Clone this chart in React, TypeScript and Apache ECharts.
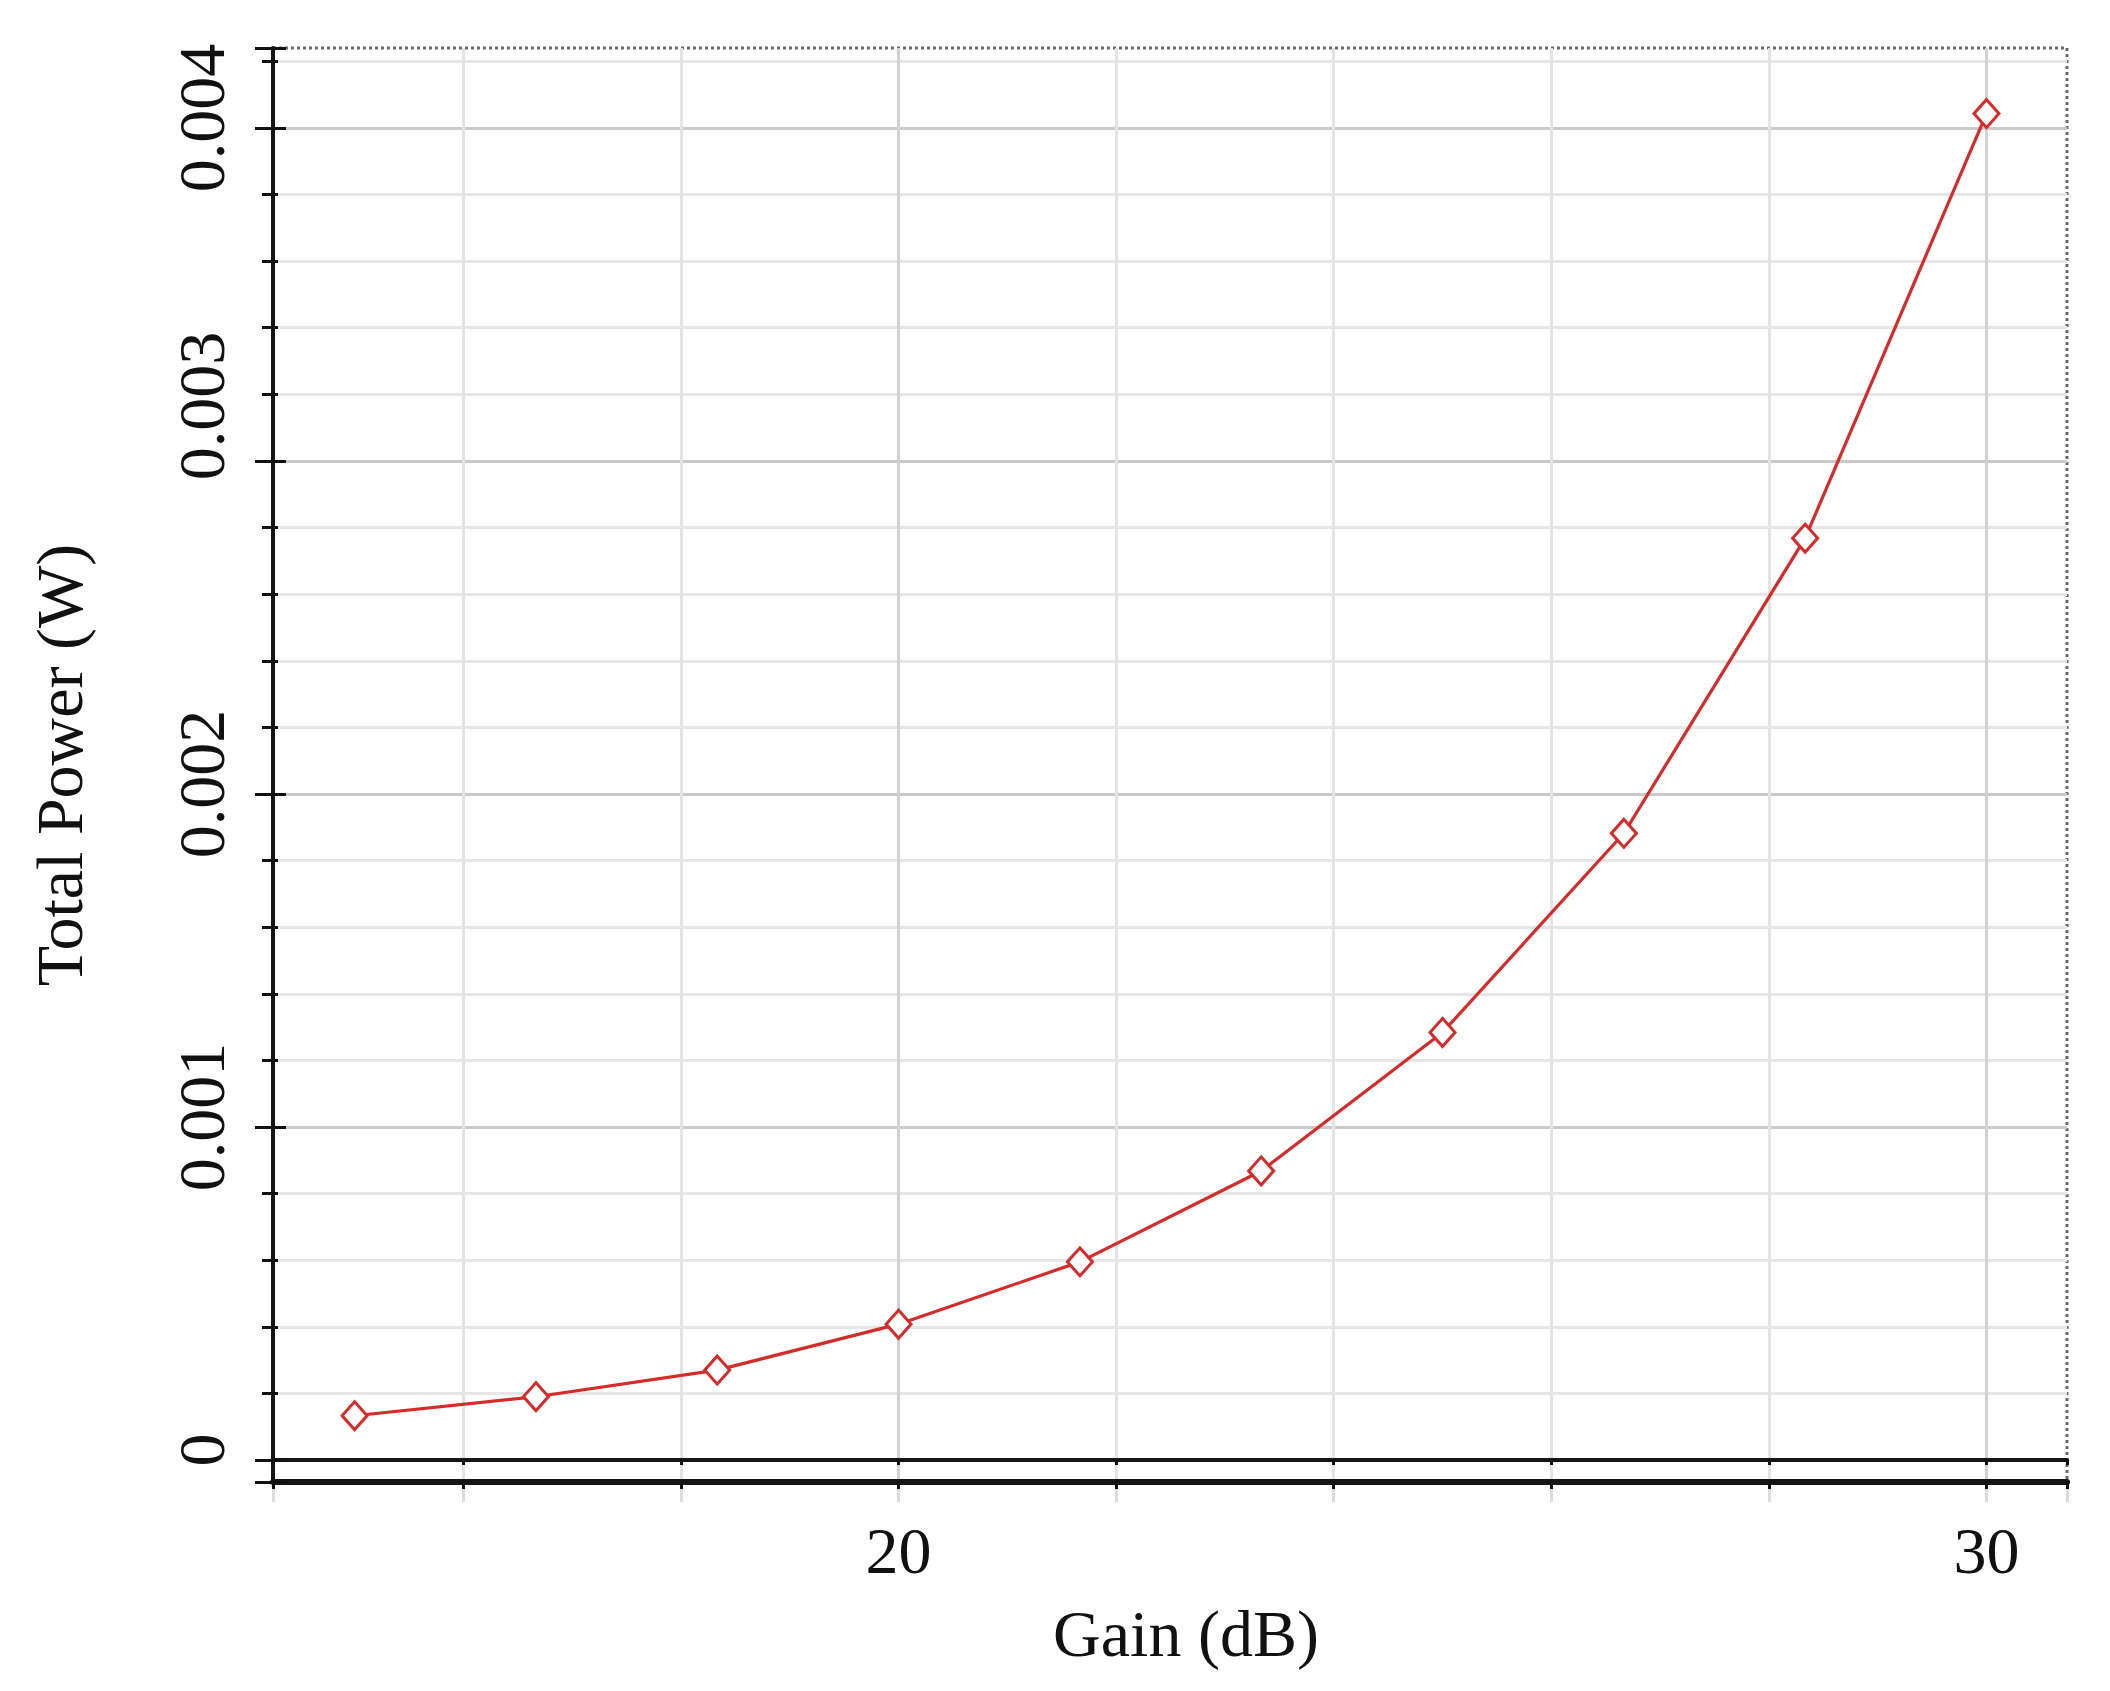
import React, { useEffect, useRef } from "react";
import * as echarts from "echarts";

// ---- data ----
const gainDb = [15, 16.667, 18.333, 20, 21.667, 23.333, 25, 26.667, 28.333, 30];
const totalPowerW = [
  0.000133, 0.00019, 0.00027, 0.000408, 0.000595, 0.000868, 0.001284, 0.001882,
  0.002768, 0.004043,
];
const xRange = [14.25, 30.74];
const yRange = [-0.000066, 0.00424];
const xTickLabels = ["20", "30"];
const yTickLabels = ["0", "0.001", "0.002", "0.003", "0.004"];
const xAxisName = "Gain (dB)";
const yAxisName = "Total Power (W)";

const FONT = '"Liberation Serif", "Times New Roman", Times, serif';
const TEXT = "#111111";
const RED = "#d42b2b";

export default function App() {
  const ref = useRef<HTMLDivElement>(null);

  useEffect(() => {
    if (!ref.current) return;
    const chart = echarts.init(ref.current, null, { renderer: "svg" });

    const xBase = {
      type: "value",
      position: "bottom",
      min: xRange[0],
      max: xRange[1],
      splitNumber: 2,
      minInterval: 10,
      maxInterval: 10,
    };
    const yBase = {
      type: "value",
      position: "left",
      min: yRange[0],
      max: yRange[1],
      splitNumber: 4,
      minInterval: 0.001,
      maxInterval: 0.001,
    };

    const yFormatter = (v: number) => {
      const s = yTickLabels.find((l) => Math.abs(parseFloat(l) - v) < 1e-9);
      if (s === undefined) return "";
      return s === "0.003" ? `{s|${s}}` : `{n|${s}}`;
    };
    const xFormatter = (v: number) => {
      const s = xTickLabels.find((l) => Math.abs(parseFloat(l) - v) < 1e-9);
      return s === undefined ? "" : s;
    };

    chart.setOption({
      animation: false,
      backgroundColor: "#ffffff",
      grid: {
        left: 273,
        right: 43,
        top: 48,
        bottom: 209,
        show: true,
        backgroundColor: "transparent",
        borderColor: "#6a6a6a",
        borderWidth: 3,
        borderType: "dotted",
        containLabel: false,
        outerBoundsMode: "none",
      },
      xAxis: [
        {
          ...xBase,
          z: 1,
          name: xAxisName,
          nameLocation: "middle",
          nameGap: 118,
          nameMoveOverlap: false,
          nameTextStyle: {
            fontFamily: FONT,
            fontSize: 66,
            color: TEXT,
            padding: [0, 0, 0, 32],
          },
          axisLine: { show: true, onZero: false, lineStyle: { color: "#151515", width: 6 } },
          axisTick: { show: true, length: 7, lineStyle: { color: TEXT, width: 3 } },
          minorTick: { show: true, splitNumber: 5, length: 7, lineStyle: { color: TEXT, width: 3 } },
          axisLabel: {
            show: true,
            margin: 35,
            fontFamily: FONT,
            fontSize: 66,
            color: TEXT,
            showMinLabel: false,
            showMaxLabel: false,
            formatter: xFormatter,
          },
          splitLine: {
            show: true,
            showMinLine: false,
            showMaxLine: false,
            lineStyle: { color: "#d2d2d2", width: 3 },
          },
          minorSplitLine: { show: true, lineStyle: { color: "#e4e4e4", width: 3 } },
        },
        {
          ...xBase,
          z: 0,
          axisLine: { show: false, onZero: false },
          axisTick: { show: true, length: 20, lineStyle: { color: "#dcdcdc", width: 3 } },
          minorTick: { show: true, splitNumber: 5, length: 20, lineStyle: { color: "#dcdcdc", width: 3 } },
          axisLabel: { show: false },
          splitLine: { show: false },
        },
        {
          ...xBase,
          z: 1,
          axisLine: { show: true, onZero: true, lineStyle: { color: "#151515", width: 4 } },
          axisTick: { show: true, length: 5, lineStyle: { color: TEXT, width: 3 } },
          minorTick: { show: true, splitNumber: 5, length: 5, lineStyle: { color: TEXT, width: 3 } },
          axisLabel: { show: false },
          splitLine: { show: false },
        },
      ],
      yAxis: [
        {
          ...yBase,
          z: 1,
          name: yAxisName,
          nameLocation: "middle",
          nameGap: 181,
          nameRotate: 90,
          nameMoveOverlap: false,
          nameTextStyle: { fontFamily: FONT, fontSize: 66, color: TEXT },
          axisLine: { show: true, onZero: false, lineStyle: { color: "#151515", width: 4 } },
          axisTick: { show: true, length: 18, lineStyle: { color: TEXT, width: 3 } },
          minorTick: { show: true, splitNumber: 5, length: 11, lineStyle: { color: TEXT, width: 3 } },
          axisLabel: {
            show: true,
            rotate: 90,
            margin: 39,
            showMinLabel: false,
            showMaxLabel: false,
            formatter: yFormatter,
            rich: {
              n: { fontFamily: FONT, fontSize: 66, color: TEXT, padding: [0, 0, 0, 20] },
              s: { fontFamily: FONT, fontSize: 66, color: TEXT, padding: [0, 0, 0, 110] },
            },
          },
          splitLine: {
            show: true,
            showMinLine: false,
            showMaxLine: false,
            lineStyle: { color: "#cacaca", width: 3 },
          },
          minorSplitLine: { show: true, lineStyle: { color: "#e6e6e6", width: 3 } },
        },
        {
          ...yBase,
          z: 1,
          axisLine: { show: false, onZero: false },
          axisTick: { show: true, inside: true, length: 13, lineStyle: { color: TEXT, width: 3 } },
          minorTick: { show: true, splitNumber: 5, length: 5, lineStyle: { color: TEXT, width: 3 } },
          axisLabel: { show: false },
          splitLine: { show: false },
        },
      ],
      series: [
        {
          type: "line",
          xAxisIndex: 0,
          yAxisIndex: 0,
          z: 3,
          data: gainDb.map((g, i) => [g, totalPowerW[i]]),
          symbol: "diamond",
          symbolSize: [25, 28],
          showAllSymbol: true,
          lineStyle: { color: RED, width: 3.2 },
          itemStyle: { color: "#ffffff", borderColor: RED, borderWidth: 3 },
        },
      ],
    });

    return () => chart.dispose();
  }, []);

  return (
    <div
      ref={ref}
      style={{ position: "absolute", left: 0, top: 0, width: 2110, height: 1691, background: "#fff" }}
    />
  );
}
